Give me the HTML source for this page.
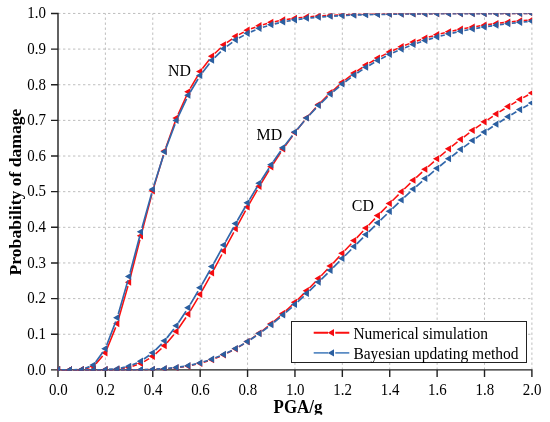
<!DOCTYPE html>
<html><head><meta charset="utf-8"><title>Fragility curves</title>
<style>html,body{margin:0;padding:0;background:#fff}body{width:550px;height:422px;overflow:hidden}svg{display:block}</style></head>
<body>
<svg width="550" height="422" viewBox="0 0 550 422" font-family="'Liberation Serif', 'Times New Roman', serif">
<rect width="550" height="422" fill="#fff"/>
<defs><clipPath id="c"><rect x="57.70" y="13.25" width="474.40" height="357.40"/></clipPath><clipPath id="t"><rect x="0" y="0" width="550" height="414.8"/></clipPath></defs>
<path d="M105.39 369.90V13.45M152.78 369.90V13.45M200.17 369.90V13.45M247.56 369.90V13.45M294.95 369.90V13.45M342.34 369.90V13.45M389.73 369.90V13.45M437.12 369.90V13.45M484.51 369.90V13.45M531.90 369.90V13.45M58.00 334.25H531.90M58.00 298.61H531.90M58.00 262.96H531.90M58.00 227.32H531.90M58.00 191.67H531.90M58.00 156.03H531.90M58.00 120.38H531.90M58.00 84.74H531.90M58.00 49.09H531.90M58.00 13.45H531.90" fill="none" stroke="#bebebe" stroke-width="1" stroke-dasharray="2.4 2.6"/>
<path d="M58.00 12.75V369.90H532.60M58.00 369.20v7.70M58.70 369.90h-7.70M105.39 369.20v7.70M58.70 334.25h-7.70M152.78 369.20v7.70M58.70 298.61h-7.70M200.17 369.20v7.70M58.70 262.96h-7.70M247.56 369.20v7.70M58.70 227.32h-7.70M294.95 369.20v7.70M58.70 191.67h-7.70M342.34 369.20v7.70M58.70 156.03h-7.70M389.73 369.20v7.70M58.70 120.38h-7.70M437.12 369.20v7.70M58.70 84.74h-7.70M484.51 369.20v7.70M58.70 49.09h-7.70M531.90 369.20v7.70M58.70 13.45h-7.70" fill="none" stroke="#202020" stroke-width="1.4"/>
<g clip-path="url(#c)">
<path d="M61.65 369.90L65.50 369.90M73.50 369.85L77.35 369.80M85.23 368.81L89.35 367.73M95.99 363.76L102.65 355.98M106.84 349.21L115.69 327.39M118.31 319.83L127.96 286.14M130.05 278.44L139.92 239.78M141.92 232.07L151.74 194.76M153.89 187.09L163.46 154.94M165.93 147.39L175.09 121.87M178.06 114.50L186.62 95.51M190.25 88.45L198.07 75.07M202.48 68.49L209.45 59.48M214.71 53.56L220.81 47.69M226.89 42.59L232.22 38.80M238.98 34.62L243.74 32.14M250.99 28.84L255.36 27.18M262.94 24.66L267.08 23.52M274.84 21.64L278.85 20.83M286.72 19.44L290.65 18.86M298.58 17.84L302.47 17.43M310.44 16.68L314.31 16.38M322.29 15.83L326.15 15.61M334.14 15.21L337.99 15.05M345.99 14.76L349.84 14.64M357.84 14.42L361.69 14.34M369.68 14.18L373.53 14.11M381.53 14.00L385.38 13.95M393.38 13.86L397.23 13.82M405.23 13.76L409.08 13.73M417.07 13.68L420.92 13.66M428.92 13.63L432.77 13.61M440.77 13.59L444.62 13.57M452.62 13.55L456.47 13.54M464.46 13.53L468.31 13.52M476.31 13.51L480.16 13.51M488.16 13.50L492.01 13.49M500.01 13.49L503.86 13.48M511.85 13.48L515.70 13.48M523.70 13.47L527.55 13.47" fill="none" stroke="#fb1010" stroke-width="1.55"/>
<path d="M53.84 369.90L60.08 366.30L60.08 373.50ZM65.69 369.90L71.93 366.30L71.93 373.50ZM77.54 369.75L83.77 366.15L83.77 373.35ZM89.39 366.62L95.62 363.02L95.62 370.22ZM101.23 352.78L107.47 349.18L107.47 356.38ZM113.08 323.57L119.32 319.97L119.32 327.17ZM124.93 282.22L131.16 278.62L131.16 285.82ZM136.78 235.84L143.01 232.24L143.01 239.44ZM148.62 190.82L154.86 187.22L154.86 194.42ZM160.47 151.03L166.71 147.43L166.71 154.63ZM172.32 118.00L178.55 114.40L178.55 121.60ZM184.17 91.74L190.40 88.14L190.40 95.34ZM196.01 71.48L202.25 67.88L202.25 75.08ZM207.86 56.16L214.10 52.56L214.10 59.76ZM219.71 44.74L225.94 41.14L225.94 48.34ZM231.56 36.32L237.79 32.72L237.79 39.92ZM243.40 30.15L249.64 26.55L249.64 33.75ZM255.25 25.64L261.49 22.04L261.49 29.24ZM267.10 22.36L273.33 18.76L273.33 25.96ZM278.95 19.97L285.18 16.37L285.18 23.57ZM290.79 18.23L297.03 14.63L297.03 21.83ZM302.64 16.97L308.88 13.37L308.88 20.57ZM314.49 16.04L320.72 12.44L320.72 19.64ZM326.34 15.37L332.57 11.77L332.57 18.97ZM338.18 14.87L344.42 11.27L344.42 18.47ZM350.03 14.51L356.27 10.91L356.27 18.11ZM361.88 14.24L368.11 10.64L368.11 17.84ZM373.73 14.04L379.96 10.44L379.96 17.64ZM385.57 13.89L391.81 10.29L391.81 17.49ZM397.42 13.78L403.66 10.18L403.66 17.38ZM409.27 13.70L415.50 10.10L415.50 17.30ZM421.12 13.64L427.35 10.04L427.35 17.24ZM432.96 13.60L439.20 10.00L439.20 17.20ZM444.81 13.56L451.05 9.96L451.05 17.16ZM456.66 13.54L462.89 9.94L462.89 17.14ZM468.51 13.52L474.74 9.92L474.74 17.12ZM480.35 13.50L486.59 9.90L486.59 17.10ZM492.20 13.49L498.44 9.89L498.44 17.09ZM504.05 13.48L510.28 9.88L510.28 17.08ZM515.90 13.47L522.13 9.87L522.13 17.07ZM527.74 13.47L533.98 9.87L533.98 17.07Z" fill="#f40c10"/>
<path d="M61.65 369.90L65.50 369.90M73.50 369.80L77.35 369.71M85.13 368.29L89.50 366.63M95.76 362.02L102.94 352.06M106.77 345.05L115.77 321.48M118.31 313.90L127.96 280.38M130.09 272.69L139.89 235.79M141.98 228.10L151.69 193.17M153.95 185.54L163.40 155.62M165.99 148.10L175.02 124.25M178.11 116.93L186.56 98.96M190.28 91.95L198.03 79.03M202.49 72.48L209.44 63.55M214.69 57.61L220.83 51.60M226.85 46.43L232.27 42.41M238.94 38.08L243.80 35.37M250.95 31.87L255.42 30.01M262.91 27.26L267.12 25.94M274.82 23.82L278.88 22.88M286.70 21.26L290.67 20.57M298.57 19.35L302.49 18.84M310.43 17.92L314.32 17.54M322.29 16.84L326.16 16.56M334.14 16.03L338.00 15.82M345.99 15.42L349.84 15.26M357.84 14.96L361.69 14.84M369.68 14.61L373.53 14.52M381.53 14.35L385.38 14.28M393.38 14.14L397.23 14.09M405.23 13.99L409.08 13.95M417.07 13.87L420.92 13.84M428.92 13.78L432.77 13.75M440.77 13.71L444.62 13.69M452.62 13.65L456.47 13.64M464.46 13.61L468.31 13.60M476.31 13.57L480.16 13.57M488.16 13.55L492.01 13.54M500.01 13.53L503.86 13.52M511.85 13.51L515.70 13.51M523.70 13.50L527.55 13.50" fill="none" stroke="#3368ab" stroke-width="1.7"/>
<path d="M53.84 369.90L60.08 366.30L60.08 373.50ZM65.69 369.90L71.93 366.30L71.93 373.50ZM77.54 369.59L83.77 365.99L83.77 373.19ZM89.39 365.09L95.62 361.49L95.62 368.69ZM101.23 348.66L107.47 345.06L107.47 352.26ZM113.08 317.64L119.32 314.04L119.32 321.24ZM124.93 276.45L131.16 272.85L131.16 280.05ZM136.78 231.85L143.01 228.25L143.01 235.45ZM148.62 189.24L154.86 185.64L154.86 192.84ZM160.47 151.72L166.71 148.12L166.71 155.32ZM172.32 120.40L178.55 116.80L178.55 124.00ZM184.17 95.21L190.40 91.61L190.40 98.81ZM196.01 75.46L202.25 71.86L202.25 79.06ZM207.86 60.23L214.10 56.63L214.10 63.83ZM219.71 48.63L225.94 45.03L225.94 52.23ZM231.56 39.87L237.79 36.27L237.79 43.47ZM243.40 33.28L249.64 29.68L249.64 36.88ZM255.25 28.35L261.49 24.75L261.49 31.95ZM267.10 24.65L273.33 21.05L273.33 28.25ZM278.95 21.89L285.18 18.29L285.18 25.49ZM290.79 19.82L297.03 16.22L297.03 23.42ZM302.64 18.27L308.88 14.67L308.88 21.87ZM314.49 17.11L320.72 13.51L320.72 20.71ZM326.34 16.24L332.57 12.64L332.57 19.84ZM338.18 15.58L344.42 11.98L344.42 19.18ZM350.03 15.08L356.27 11.48L356.27 18.68ZM361.88 14.70L368.11 11.10L368.11 18.30ZM373.73 14.41L379.96 10.81L379.96 18.01ZM385.57 14.19L391.81 10.59L391.81 17.79ZM397.42 14.03L403.66 10.43L403.66 17.63ZM409.27 13.90L415.50 10.30L415.50 17.50ZM421.12 13.80L427.35 10.20L427.35 17.40ZM432.96 13.72L439.20 10.12L439.20 17.32ZM444.81 13.66L451.05 10.06L451.05 17.26ZM456.66 13.62L462.89 10.02L462.89 17.22ZM468.51 13.58L474.74 9.98L474.74 17.18ZM480.35 13.56L486.59 9.96L486.59 17.16ZM492.20 13.53L498.44 9.93L498.44 17.13ZM504.05 13.52L510.28 9.92L510.28 17.12ZM515.90 13.50L522.13 9.90L522.13 17.10ZM527.74 13.49L533.98 9.89L533.98 17.09Z" fill="#2b5fa0"/>
<path d="M61.65 369.90L65.50 369.90M73.50 369.90L77.35 369.90M85.34 369.90L89.19 369.90M97.19 369.86L101.04 369.83M109.04 369.63L112.89 369.45M120.85 368.70L124.79 368.11M132.56 366.29L136.83 364.84M144.10 361.55L149.10 358.56M155.55 353.85L161.47 348.51M167.04 342.77L173.78 334.67M178.61 328.30L185.96 317.54M190.28 310.81L198.03 297.89M202.02 290.98L210.00 276.60M213.82 269.60L221.90 254.50M225.67 247.46L233.76 232.31M237.55 225.29L245.57 210.62M249.46 203.67L257.34 189.90M261.39 183.04L269.08 170.43M273.35 163.70L280.80 152.42M285.32 145.86L292.49 135.94M297.31 129.60L304.17 121.03M309.30 114.94L315.83 107.63M321.30 101.83L327.49 95.67M333.29 90.21L339.15 85.06M345.28 79.97L350.81 75.69M357.25 71.00L362.49 67.45M369.21 63.16L374.18 60.22M381.16 56.35L385.90 53.91M393.09 50.44L397.64 48.40M405.00 45.32L409.39 43.62M416.90 40.90L421.17 39.47M428.79 37.09L432.95 35.89M440.67 33.80L444.76 32.78M452.54 30.97L456.57 30.11M464.41 28.53L468.39 27.80M476.27 26.44L480.22 25.81M488.13 24.64L492.05 24.10M499.98 23.09L503.89 22.63M511.84 21.76L515.73 21.36M523.69 20.61L527.57 20.28" fill="none" stroke="#fb1010" stroke-width="1.55"/>
<path d="M53.84 369.90L60.08 366.30L60.08 373.50ZM65.69 369.90L71.93 366.30L71.93 373.50ZM77.54 369.90L83.77 366.30L83.77 373.50ZM89.39 369.89L95.62 366.29L95.62 373.49ZM101.23 369.80L107.47 366.20L107.47 373.40ZM113.08 369.24L119.32 365.64L119.32 372.84ZM124.93 367.46L131.16 363.86L131.16 371.06ZM136.78 363.45L143.01 359.85L143.01 367.05ZM148.62 356.34L154.86 352.74L154.86 359.94ZM160.47 345.66L166.71 342.06L166.71 349.26ZM172.32 331.43L178.55 327.83L178.55 335.03ZM184.17 314.08L190.40 310.48L190.40 317.68ZM196.01 294.32L202.25 290.72L202.25 297.92ZM207.86 272.97L214.10 269.37L214.10 276.57ZM219.71 250.83L225.94 247.23L225.94 254.43ZM231.56 228.64L237.79 225.04L237.79 232.24ZM243.40 206.98L249.64 203.38L249.64 210.58ZM255.25 186.29L261.49 182.69L261.49 189.89ZM267.10 166.87L273.33 163.27L273.33 170.47ZM278.95 148.93L285.18 145.33L285.18 152.53ZM290.79 132.54L297.03 128.94L297.03 136.14ZM302.64 117.74L308.88 114.14L308.88 121.34ZM314.49 104.48L320.72 100.88L320.72 108.08ZM326.34 92.68L332.57 89.08L332.57 96.28ZM338.18 82.25L344.42 78.65L344.42 85.85ZM350.03 73.08L356.27 69.48L356.27 76.68ZM361.88 65.04L368.11 61.44L368.11 68.64ZM373.73 58.03L379.96 54.43L379.96 61.63ZM385.57 51.94L391.81 48.34L391.81 55.54ZM397.42 46.64L403.66 43.04L403.66 50.24ZM409.27 42.06L415.50 38.46L415.50 45.66ZM421.12 38.10L427.35 34.50L427.35 41.70ZM432.96 34.68L439.20 31.08L439.20 38.28ZM444.81 31.74L451.05 28.14L451.05 35.34ZM456.66 29.20L462.89 25.60L462.89 32.80ZM468.51 27.01L474.74 23.41L474.74 30.61ZM480.35 25.13L486.59 21.53L486.59 28.73ZM492.20 23.51L498.44 19.91L498.44 27.11ZM504.05 22.12L510.28 18.52L510.28 25.72ZM515.90 20.93L522.13 17.33L522.13 24.53ZM527.74 19.90L533.98 16.30L533.98 23.50Z" fill="#f40c10"/>
<path d="M61.65 369.90L65.50 369.90M73.50 369.90L77.35 369.90M85.34 369.89L89.19 369.89M97.19 369.83L101.04 369.76M109.03 369.42L112.90 369.13M120.82 368.05L124.84 367.20M132.46 364.85L136.97 362.91M143.96 359.06L149.29 355.28M155.42 350.14L161.64 343.87M166.95 337.88L173.89 328.95M178.57 322.46L186.02 311.16M190.27 304.39L198.04 291.30M202.04 284.39L209.98 270.22M213.86 263.24L221.86 248.65M225.71 241.66L233.70 227.24M237.60 220.29L245.50 206.47M249.52 199.59L257.26 186.72M261.46 179.95L269.00 168.22M273.42 161.59L280.71 151.11M285.39 144.67L292.40 135.46M297.37 129.23L304.08 121.25M309.36 115.28L315.75 108.45M321.35 102.78L327.42 96.98M333.33 91.64L339.09 86.75M345.31 81.76L350.77 77.67M357.28 73.06L362.46 69.63M369.23 65.41L374.17 62.54M381.17 58.70L385.89 56.29M393.09 52.84L397.63 50.81M405.00 47.72L409.40 46.01M416.90 43.27L421.17 41.82M428.79 39.39L432.96 38.15M440.66 36.01L444.77 34.96M452.54 33.08L456.58 32.17M464.40 30.53L468.40 29.75M476.27 28.31L480.23 27.64M488.12 26.39L492.06 25.81M499.98 24.72L503.89 24.22M511.83 23.27L515.73 22.84M523.69 22.01L527.57 21.63" fill="none" stroke="#3368ab" stroke-width="1.7"/>
<path d="M53.84 369.90L60.08 366.30L60.08 373.50ZM65.69 369.90L71.93 366.30L71.93 373.50ZM77.54 369.90L83.77 366.30L83.77 373.50ZM89.39 369.88L95.62 366.28L95.62 373.48ZM101.23 369.70L107.47 366.10L107.47 373.30ZM113.08 368.81L119.32 365.21L119.32 372.41ZM124.93 366.31L131.16 362.71L131.16 369.91ZM136.78 361.20L143.01 357.60L143.01 364.80ZM148.62 352.80L154.86 349.20L154.86 356.40ZM160.47 340.87L166.71 337.27L166.71 344.47ZM172.32 325.63L178.55 322.03L178.55 329.23ZM184.17 307.66L190.40 304.06L190.40 311.26ZM196.01 287.72L202.25 284.12L202.25 291.32ZM207.86 266.59L214.10 262.99L214.10 270.19ZM219.71 245.01L225.94 241.41L225.94 248.61ZM231.56 223.60L237.79 220.00L237.79 227.20ZM243.40 202.86L249.64 199.26L249.64 206.46ZM255.25 183.15L261.49 179.55L261.49 186.75ZM267.10 164.71L273.33 161.11L273.33 168.31ZM278.95 147.67L285.18 144.07L285.18 151.27ZM290.79 132.11L297.03 128.51L297.03 135.71ZM302.64 118.02L308.88 114.42L308.88 121.62ZM314.49 105.36L320.72 101.76L320.72 108.96ZM326.34 94.05L332.57 90.45L332.57 97.65ZM338.18 83.99L344.42 80.39L344.42 87.59ZM350.03 75.10L356.27 71.50L356.27 78.70ZM361.88 67.26L368.11 63.66L368.11 70.86ZM373.73 60.38L379.96 56.78L379.96 63.98ZM385.57 54.34L391.81 50.74L391.81 57.94ZM397.42 49.06L403.66 45.46L403.66 52.66ZM409.27 44.45L415.50 40.85L415.50 48.05ZM421.12 40.42L427.35 36.82L427.35 44.02ZM432.96 36.92L439.20 33.32L439.20 40.52ZM444.81 33.87L451.05 30.27L451.05 37.47ZM456.66 31.22L462.89 27.62L462.89 34.82ZM468.51 28.92L474.74 25.32L474.74 32.52ZM480.35 26.92L486.59 23.32L486.59 30.52ZM492.20 25.18L498.44 21.58L498.44 28.78ZM504.05 23.67L510.28 20.07L510.28 27.27ZM515.90 22.36L522.13 18.76L522.13 25.96ZM527.74 21.22L533.98 17.62L533.98 24.82Z" fill="#2b5fa0"/>
<path d="M61.65 369.90L65.50 369.90M73.50 369.90L77.34 369.90M85.34 369.90L89.19 369.90M97.19 369.90L101.04 369.90M109.04 369.90L112.89 369.90M120.89 369.89L124.74 369.88M132.73 369.83L136.58 369.80M144.58 369.68L148.43 369.59M156.43 369.31L160.28 369.12M168.26 368.57L172.14 368.21M180.09 367.27L184.03 366.68M191.89 365.23L195.94 364.32M203.67 362.28L207.88 360.96M215.42 358.27L219.86 356.46M227.15 353.15L231.87 350.74M238.87 346.86L243.89 343.79M250.59 339.41L255.91 335.66M262.32 330.87L267.91 326.43M274.07 321.33L279.89 316.25M285.83 310.90L291.85 305.26M297.61 299.72L303.78 293.62M309.41 287.95L315.69 281.49M321.23 275.73L327.58 269.03M333.06 263.22L339.45 256.39M344.90 250.56L351.30 243.70M356.76 237.88L363.14 231.09M368.62 225.29L374.96 218.65M380.50 212.90L386.77 206.47M392.38 200.79L398.57 194.62M404.27 189.03L410.37 183.17M416.17 177.69L422.15 172.15M428.07 166.79L433.93 161.59M439.97 156.37L445.71 151.53M451.87 146.46L457.48 141.96M463.78 137.05L469.26 132.91M475.68 128.17L481.03 124.36M487.59 119.80L492.80 116.30M499.49 111.94L504.57 108.74M511.39 104.58L516.35 101.65M523.28 97.69L528.13 95.02" fill="none" stroke="#fb1010" stroke-width="1.55"/>
<path d="M53.84 369.90L60.08 366.30L60.08 373.50ZM65.69 369.90L71.93 366.30L71.93 373.50ZM77.54 369.90L83.77 366.30L83.77 373.50ZM89.39 369.90L95.62 366.30L95.62 373.50ZM101.23 369.90L107.47 366.30L107.47 373.50ZM113.08 369.89L119.32 366.29L119.32 373.49ZM124.93 369.87L131.16 366.27L131.16 373.47ZM136.78 369.76L143.01 366.16L143.01 373.36ZM148.62 369.49L154.86 365.89L154.86 373.09ZM160.47 368.90L166.71 365.30L166.71 372.50ZM172.32 367.82L178.55 364.22L178.55 371.42ZM184.17 366.03L190.40 362.43L190.40 369.63ZM196.01 363.37L202.25 359.77L202.25 366.97ZM207.86 359.67L214.10 356.07L214.10 363.27ZM219.71 354.82L225.94 351.22L225.94 358.42ZM231.56 348.78L237.79 345.18L237.79 352.38ZM243.40 341.55L249.64 337.95L249.64 345.15ZM255.25 333.19L261.49 329.59L261.49 336.79ZM267.10 323.78L273.33 320.18L273.33 327.38ZM278.95 313.45L285.18 309.85L285.18 317.05ZM290.79 302.35L297.03 298.75L297.03 305.95ZM302.64 290.63L308.88 287.03L308.88 294.23ZM314.49 278.45L320.72 274.85L320.72 282.05ZM326.34 265.96L332.57 262.36L332.57 269.56ZM338.18 253.30L344.42 249.70L344.42 256.90ZM350.03 240.61L356.27 237.01L356.27 244.21ZM361.88 228.00L368.11 224.40L368.11 231.60ZM373.73 215.58L379.96 211.98L379.96 219.18ZM385.57 203.43L391.81 199.83L391.81 207.03ZM397.42 191.63L403.66 188.03L403.66 195.23ZM409.27 180.22L415.50 176.62L415.50 183.82ZM421.12 169.26L427.35 165.66L427.35 172.86ZM432.96 158.77L439.20 155.17L439.20 162.37ZM444.81 148.78L451.05 145.18L451.05 152.38ZM456.66 139.30L462.89 135.70L462.89 142.90ZM468.51 130.33L474.74 126.73L474.74 133.93ZM480.35 121.87L486.59 118.27L486.59 125.47ZM492.20 113.92L498.44 110.32L498.44 117.52ZM504.05 106.45L510.28 102.85L510.28 110.05ZM515.90 99.47L522.13 95.87L522.13 103.07ZM527.74 92.95L533.98 89.35L533.98 96.55Z" fill="#f40c10"/>
<path d="M61.65 369.90L65.50 369.90M73.50 369.90L77.34 369.90M85.34 369.90L89.19 369.90M97.19 369.90L101.04 369.90M109.04 369.90L112.89 369.89M120.89 369.88L124.74 369.87M132.73 369.81L136.58 369.77M144.58 369.62L148.43 369.51M156.42 369.18L160.29 368.96M168.26 368.35L172.15 367.96M180.08 366.95L184.03 366.32M191.89 364.81L195.94 363.87M203.67 361.80L207.88 360.47M215.42 357.79L219.86 356.00M227.16 352.75L231.85 350.42M238.90 346.63L243.85 343.72M250.63 339.48L255.85 335.96M262.38 331.33L267.84 327.22M274.13 322.28L279.81 317.61M285.90 312.44L291.76 307.28M297.69 301.92L303.68 296.35M309.49 290.87L315.59 284.98M321.31 279.40L327.48 273.30M333.14 267.66L339.35 261.43M344.98 255.77L351.20 249.49M356.83 243.83L363.04 237.59M368.69 231.95L374.87 225.81M380.56 220.22L386.69 214.24M392.44 208.71L398.50 202.94M404.32 197.48L410.30 191.97M416.21 186.60L422.10 181.35M428.10 176.10L433.89 171.14M440.00 166.00L445.67 161.34M451.89 156.34L457.46 151.98M463.79 147.12L469.24 143.06M475.69 138.36L481.02 134.58M487.59 130.05L492.80 126.56M499.48 122.19L504.58 118.96M511.38 114.78L516.36 111.80M523.27 107.80L528.15 105.06" fill="none" stroke="#3368ab" stroke-width="1.7"/>
<path d="M53.84 369.90L60.08 366.30L60.08 373.50ZM65.69 369.90L71.93 366.30L71.93 373.50ZM77.54 369.90L83.77 366.30L83.77 373.50ZM89.39 369.90L95.62 366.30L95.62 373.50ZM101.23 369.90L107.47 366.30L107.47 373.50ZM113.08 369.89L119.32 366.29L119.32 373.49ZM124.93 369.85L131.16 366.25L131.16 373.45ZM136.78 369.72L143.01 366.12L143.01 373.32ZM148.62 369.39L154.86 365.79L154.86 372.99ZM160.47 368.71L166.71 365.11L166.71 372.31ZM172.32 367.52L178.55 363.92L178.55 371.12ZM184.17 365.64L190.40 362.04L190.40 369.24ZM196.01 362.89L202.25 359.29L202.25 366.49ZM207.86 359.17L214.10 355.57L214.10 362.77ZM219.71 354.39L225.94 350.79L225.94 357.99ZM231.56 348.51L237.79 344.91L237.79 352.11ZM243.40 341.55L249.64 337.95L249.64 345.15ZM255.25 333.56L261.49 329.96L261.49 337.16ZM267.10 324.65L273.33 321.05L273.33 328.25ZM278.95 314.90L285.18 311.30L285.18 318.50ZM290.79 304.46L297.03 300.86L297.03 308.06ZM302.64 293.46L308.88 289.86L308.88 297.06ZM314.49 282.04L320.72 278.44L320.72 285.64ZM326.34 270.32L332.57 266.72L332.57 273.92ZM338.18 258.43L344.42 254.83L344.42 262.03ZM350.03 246.48L356.27 242.88L356.27 250.08ZM361.88 234.59L368.11 230.99L368.11 238.19ZM373.73 222.83L379.96 219.23L379.96 226.43ZM385.57 211.28L391.81 207.68L391.81 214.88ZM397.42 200.02L403.66 196.42L403.66 203.62ZM409.27 189.08L415.50 185.48L415.50 192.68ZM421.12 178.52L427.35 174.92L427.35 182.12ZM432.96 168.36L439.20 164.76L439.20 171.96ZM444.81 158.63L451.05 155.03L451.05 162.23ZM456.66 149.34L462.89 145.74L462.89 152.94ZM468.51 140.50L474.74 136.90L474.74 144.10ZM480.35 132.11L486.59 128.51L486.59 135.71ZM492.20 124.17L498.44 120.57L498.44 127.77ZM504.05 116.67L510.28 113.07L510.28 120.27ZM515.90 109.60L522.13 106.00L522.13 113.20ZM527.74 102.96L533.98 99.36L533.98 106.56Z" fill="#2b5fa0"/>
</g>
<g font-size="16.6px" fill="#000">
<text transform="translate(58.30 394.5) scale(0.9 1)" text-anchor="middle">0.0</text>
<text transform="translate(46 374.70) scale(0.9 1)" text-anchor="end">0.0</text>
<text transform="translate(105.69 394.5) scale(0.9 1)" text-anchor="middle">0.2</text>
<text transform="translate(46 339.06) scale(0.9 1)" text-anchor="end">0.1</text>
<text transform="translate(153.08 394.5) scale(0.9 1)" text-anchor="middle">0.4</text>
<text transform="translate(46 303.41) scale(0.9 1)" text-anchor="end">0.2</text>
<text transform="translate(200.47 394.5) scale(0.9 1)" text-anchor="middle">0.6</text>
<text transform="translate(46 267.76) scale(0.9 1)" text-anchor="end">0.3</text>
<text transform="translate(247.86 394.5) scale(0.9 1)" text-anchor="middle">0.8</text>
<text transform="translate(46 232.12) scale(0.9 1)" text-anchor="end">0.4</text>
<text transform="translate(295.25 394.5) scale(0.9 1)" text-anchor="middle">1.0</text>
<text transform="translate(46 196.47) scale(0.9 1)" text-anchor="end">0.5</text>
<text transform="translate(342.64 394.5) scale(0.9 1)" text-anchor="middle">1.2</text>
<text transform="translate(46 160.83) scale(0.9 1)" text-anchor="end">0.6</text>
<text transform="translate(390.03 394.5) scale(0.9 1)" text-anchor="middle">1.4</text>
<text transform="translate(46 125.18) scale(0.9 1)" text-anchor="end">0.7</text>
<text transform="translate(437.42 394.5) scale(0.9 1)" text-anchor="middle">1.6</text>
<text transform="translate(46 89.54) scale(0.9 1)" text-anchor="end">0.8</text>
<text transform="translate(484.81 394.5) scale(0.9 1)" text-anchor="middle">1.8</text>
<text transform="translate(46 53.89) scale(0.9 1)" text-anchor="end">0.9</text>
<text transform="translate(532.20 394.5) scale(0.9 1)" text-anchor="middle">2.0</text>
<text transform="translate(46 18.25) scale(0.9 1)" text-anchor="end">1.0</text>
</g>
<g clip-path="url(#t)"><text transform="translate(298 412.6) scale(0.95 1)" font-size="17.8px" font-weight="bold" text-anchor="middle" fill="#000">PGA/g</text></g>
<text transform="translate(21.3 192.0) rotate(-90) scale(0.995 1)" font-size="17.7px" font-weight="bold" text-anchor="middle" fill="#000">Probability of damage</text>
<g font-size="16.9px" fill="#000">
<text transform="translate(168 75.8) scale(0.94 1)">ND</text>
<text transform="translate(256.6 139.8) scale(0.94 1)">MD</text>
<text transform="translate(351.8 210.6) scale(0.94 1)">CD</text>
</g>
<rect x="291.5" y="321.5" width="235" height="41" fill="#fff" stroke="#222" stroke-width="1"/>
<path d="M313.7 332.7H328.0M335.3 332.7H349.3" stroke="#fb1010" stroke-width="1.9" fill="none"/>
<path d="M327.74 332.70L333.98 329.10L333.98 336.30Z" fill="#f40c10"/>
<text transform="translate(353.4 338.5) scale(0.917 1)" font-size="16.9px" fill="#000">Numerical simulation</text>
<path d="M313.7 352.9H328.0M335.3 352.9H349.3" stroke="#5b8cc4" stroke-width="1.9" fill="none"/>
<path d="M327.74 352.90L333.98 349.30L333.98 356.50Z" fill="#2b5fa0"/>
<text transform="translate(353.4 358.7) scale(0.917 1)" font-size="16.9px" fill="#000">Bayesian updating method</text>
</svg>
</body></html>
